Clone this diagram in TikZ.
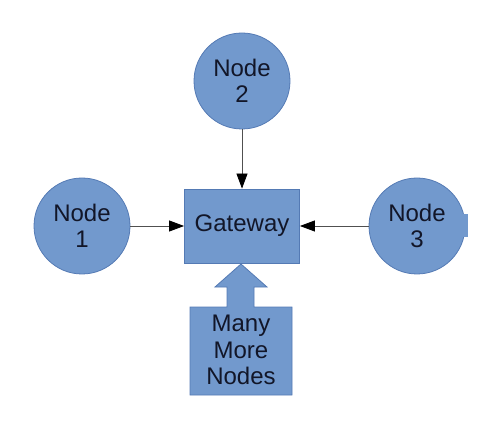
\documentclass[tikz,border=0pt]{standalone}
\usepackage{fontspec}
\setmainfont{Liberation Sans}
\usetikzlibrary{arrows.meta}
\definecolor{nodefill}{RGB}{114,153,205}
\definecolor{nodeline}{RGB}{84,122,180}
\definecolor{txt}{RGB}{18,22,40}
\definecolor{conn}{RGB}{80,80,80}
\tikzset{
  base/.style={fill=nodefill, draw=nodeline, line width=0.8pt, text=txt,
    font=\fontsize{24}{26.5}\selectfont, align=center, inner sep=0pt},
  roundnode/.style={base, circle, minimum size=96pt},
  gatebox/.style={base, rectangle, minimum width=115pt, minimum height=74pt},
  arr/.style={draw=conn, line width=0.8pt, -{Triangle[length=15pt,width=11pt,fill=black,color=black]}},
  blockarrow/.style={fill=nodefill, draw=nodeline, line width=0.8pt},
  labelonly/.style={text=txt, font=\fontsize{24}{26.5}\selectfont, align=center, inner sep=0pt}
}
\begin{document}
\begin{tikzpicture}[x=1pt, y=-1pt]
\useasboundingbox (0,0) rectangle (503,438);
\node[roundnode] (n2) at (242,81) {Node\\2};
\node[roundnode] (n1) at (82,226) {Node\\1};
\node[roundnode] (n3) at (417,226) {Node\\3};
\node[gatebox] (gw) at (242,226) {Gateway};
% small fragment at the right of Node 3
\fill[nodefill] (463,214) rectangle (468,237);
% block arrow with the many-more-nodes box
\path[blockarrow] (190,395) -- (292,395) -- (292,307) -- (254,307) -- (254,287)
  -- (267,287) -- (241,264) -- (215,287) -- (227,287) -- (227,307) -- (190,307) -- cycle;
\node[labelonly] (mm) at (241,350) {Many\\More\\Nodes};
\draw[arr] (n2) -- (gw);
\draw[arr] (n1) -- (gw);
\draw[arr] (n3) -- (gw);
\end{tikzpicture}
\end{document}
